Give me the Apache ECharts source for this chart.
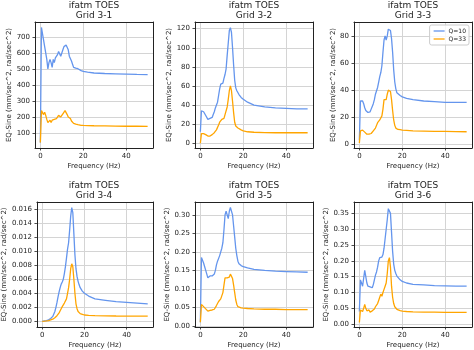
<!DOCTYPE html>
<html><head><meta charset="utf-8">
<script src="https://cdn.jsdelivr.net/npm/echarts@6/dist/echarts.min.js"></script>
<style>html,body{margin:0;padding:0;background:#fff}#c{width:474px;height:350px}</style>
</head><body><div id="c"></div>
<script>
// ---- data ----
const freq = [0, 0.5, 1, 1.5, 2, 2.5, 3, 3.5, 4, 4.5, 5, 5.5, 6, 6.5, 7, 7.5, 8, 8.5, 9, 9.5, 10, 10.5, 11, 11.5, 12, 12.5, 13, 13.5, 14, 14.5, 15, 15.5, 16, 16.5, 17, 17.5, 18, 19, 20, 22, 25, 30, 35, 40, 45, 50];
const seriesNames = ['Q=10', 'Q=33'];
const gridTitles = ['Grid 3-1', 'Grid 3-2', 'Grid 3-3', 'Grid 3-4', 'Grid 3-5', 'Grid 3-6'];
const xTicks = [0, 20, 40];

const g1Blue = [40, 760, 720, 680, 640, 630, 560, 500, 540, 560, 540, 510, 560, 540, 570, 580, 590, 610, 600, 580, 600, 620, 640, 650, 650, 640, 620, 580, 570, 550, 530, 510, 500, 505, 505, 502, 500, 490, 485, 480, 475, 472, 470, 468, 466, 465];
const g1Orange = [40, 240, 230, 215, 230, 210, 185, 165, 175, 180, 165, 180, 170, 185, 195, 190, 200, 210, 205, 200, 210, 220, 225, 240, 235, 215, 200, 195, 190, 175, 165, 160, 155, 155, 155, 152, 150, 148, 147, 146, 145, 144, 143, 142, 142, 141];
const g1Ticks = [100, 200, 300, 400, 500, 600, 700];

const g2Blue = [12, 34, 34, 33, 31, 29, 27, 25, 25, 26, 25, 27, 30, 33, 37, 40, 43, 50, 57, 62, 62, 63, 68, 72, 78, 92, 105, 118, 121, 116, 100, 82, 66, 58, 55, 53, 51, 48, 46, 43, 40, 38, 37, 36.5, 36, 36];
const g2Orange = [0, 10, 11, 10, 9.5, 9, 8, 7.5, 7.5, 7.5, 8, 9, 10, 11, 13, 14, 16, 19, 22, 24, 25, 24, 26, 30, 32, 38, 46, 55, 60, 55, 44, 32, 22, 18, 16.5, 16, 15, 14, 13, 12, 11.5, 11.2, 11, 11, 11, 11];
const g2Ticks = [0, 20, 40, 60, 80, 100, 120];

const g3Blue = [3, 32, 33, 32, 30, 27, 25, 24, 23.5, 24.5, 24, 26, 28, 30, 33, 37, 37, 42, 46, 50, 53, 58, 68, 77, 80, 77, 80, 85, 86, 84, 78, 68, 55, 46, 41, 38, 37, 36, 35, 34, 33, 32, 31.5, 31, 31, 31];
const g3Orange = [1, 10, 11, 10.5, 9.5, 9, 8, 7.5, 7, 7.5, 7.5, 8, 9, 10, 11, 12, 14, 16, 17, 18, 19, 21, 26, 33, 34, 33, 37, 40, 41, 39, 33, 25, 18, 14, 12, 11.5, 11, 10.8, 10.5, 10.3, 10, 9.8, 9.6, 9.5, 9.4, 9.3];
const g3Ticks = [0, 20, 40, 60, 80];

const g4Blue = [0, 0.00002, 0.00005, 0.00007, 0.0001, 0.00015, 0.0002, 0.0003, 0.0004, 0.0005, 0.0007, 0.0009, 0.0014, 0.002, 0.0027, 0.0035, 0.0042, 0.0048, 0.0053, 0.0056, 0.006, 0.0068, 0.0078, 0.009, 0.0103, 0.0112, 0.013, 0.015, 0.0162, 0.0155, 0.0125, 0.0095, 0.0075, 0.0064, 0.0057, 0.0052, 0.0048, 0.0043, 0.004, 0.0036, 0.0032, 0.003, 0.0028, 0.0027, 0.0026, 0.0025];
const g4Orange = [0, 0.00001, 0.00002, 0.00003, 0.00005, 0.00007, 0.0001, 0.00015, 0.0002, 0.00025, 0.0003, 0.0004, 0.0005, 0.0006, 0.0008, 0.001, 0.0012, 0.0015, 0.0018, 0.0021, 0.0023, 0.0026, 0.0028, 0.0032, 0.004, 0.0048, 0.006, 0.0075, 0.0082, 0.0078, 0.006, 0.004, 0.0025, 0.0018, 0.0014, 0.0012, 0.0011, 0.001, 0.0009, 0.00085, 0.0008, 0.00078, 0.00076, 0.00075, 0.00074, 0.00073];
const g4Ticks = [0, 0.002, 0.004, 0.006, 0.008, 0.010, 0.012, 0.014, 0.016];

const g5Blue = [0.01, 0.185, 0.18, 0.17, 0.16, 0.15, 0.14, 0.13, 0.127, 0.135, 0.14, 0.135, 0.132, 0.14, 0.15, 0.165, 0.175, 0.18, 0.19, 0.2, 0.21, 0.225, 0.26, 0.3, 0.31, 0.305, 0.29, 0.31, 0.32, 0.318, 0.3, 0.27, 0.24, 0.21, 0.19, 0.175, 0.168, 0.163, 0.16, 0.157, 0.153, 0.15, 0.148, 0.147, 0.146, 0.145];
const g5Orange = [0.01, 0.058, 0.056, 0.052, 0.049, 0.046, 0.043, 0.04, 0.038, 0.042, 0.045, 0.043, 0.042, 0.045, 0.05, 0.055, 0.06, 0.066, 0.07, 0.073, 0.076, 0.09, 0.11, 0.13, 0.133, 0.13, 0.125, 0.132, 0.14, 0.138, 0.128, 0.11, 0.09, 0.07, 0.058, 0.052, 0.05, 0.049, 0.048, 0.047, 0.046, 0.045, 0.045, 0.044, 0.044, 0.044];
const g5Ticks = [0, 0.05, 0.10, 0.15, 0.20, 0.25, 0.30];

const g6Blue = [0.04, 0.14, 0.13, 0.12, 0.145, 0.17, 0.15, 0.13, 0.12, 0.12, 0.118, 0.12, 0.115, 0.125, 0.14, 0.155, 0.165, 0.18, 0.2, 0.21, 0.21, 0.212, 0.22, 0.24, 0.27, 0.3, 0.33, 0.365, 0.37, 0.35, 0.29, 0.23, 0.19, 0.17, 0.16, 0.152, 0.146, 0.14, 0.135, 0.13, 0.126, 0.124, 0.122, 0.121, 0.12, 0.12];
const g6Orange = [0.005, 0.045, 0.04, 0.04, 0.05, 0.062, 0.05, 0.042, 0.04, 0.045, 0.038, 0.04, 0.042, 0.04, 0.048, 0.055, 0.058, 0.065, 0.075, 0.085, 0.095, 0.088, 0.1, 0.11, 0.12, 0.13, 0.16, 0.2, 0.21, 0.18, 0.12, 0.085, 0.065, 0.055, 0.05, 0.047, 0.045, 0.043, 0.041, 0.04, 0.039, 0.038, 0.038, 0.037, 0.037, 0.037];
const g6Ticks = [0, 0.05, 0.10, 0.15, 0.20, 0.25, 0.30, 0.35];

// ---- layout / style ----
const FONT = '"DejaVu Sans", sans-serif';
const TXT = '#222';
const BLUE = '#6495ED', ORANGE = '#FFA500';
const W = 118, H = 126;
const panels = [
  {blue: g1Blue, orange: g1Orange, ticks: g1Ticks, min: 6, max: 794, dec: 0, left: 35, top: 22, gap: 21},
  {blue: g2Blue, orange: g2Orange, ticks: g2Ticks, min: -5, max: 127, dec: 0, left: 195, top: 22, gap: 21},
  {blue: g3Blue, orange: g3Orange, ticks: g3Ticks, min: -2.7, max: 90.3, dec: 0, left: 354, top: 22, gap: 17},
  {blue: g4Blue, orange: g4Orange, ticks: g4Ticks, min: -0.00081, max: 0.01701, dec: 3, left: 35, top: 202, gap: 28},
  {blue: g5Blue, orange: g5Orange, ticks: g5Ticks, min: -0.003, max: 0.335, dec: 2, left: 195, top: 202, gap: 23.5},
  {blue: g6Blue, orange: g6Orange, ticks: g6Ticks, min: -0.009, max: 0.386, dec: 2, left: 354, top: 202, gap: 23.5}
];

function isOnTick(v, ticks) {
  return ticks.some(t => Math.abs(v - t) < 1e-9 * Math.max(1, Math.abs(t)) + 1e-9);
}

const option = {
  animation: false,
  backgroundColor: '#fff',
  grid: [], xAxis: [], yAxis: [], series: [], graphic: [],
  legend: {
    data: seriesNames,
    orient: 'vertical',
    right: 5, top: 25,
    icon: 'rect',
    itemWidth: 11, itemHeight: 1.3, itemGap: 2,
    padding: [3, 3, 3, 4],
    textStyle: {fontSize: 6, fontFamily: FONT, color: TXT, padding: [0, 0, 0, -1]},
    borderColor: '#cccccc', borderWidth: 1, borderRadius: 2,
    backgroundColor: 'rgba(255,255,255,0.8)',
    z: 10
  }
};

const noLine = {show: false, onZero: false};
panels.forEach((p, i) => {
  option.grid.push({left: p.left, top: p.top, width: W, height: H, containLabel: false});
  const yiv = p.ticks[1] - p.ticks[0];
  const xiv = xTicks[1] - xTicks[0];
  const border = {color: TXT, width: 1};
  option.xAxis.push({
    type: 'value', gridIndex: i, min: -2.5, max: 52.5, minInterval: xiv, maxInterval: xiv, position: 'bottom',
    axisLine: noLine,
    axisTick: {show: true, length: 2.5, customValues: xTicks, lineStyle: {color: TXT, width: 0.8}},
    axisLabel: {customValues: xTicks, margin: 5, fontSize: 7, fontFamily: FONT, color: TXT,
      formatter: v => isOnTick(v, xTicks) ? String(Math.round(v)) : ''},
    splitLine: {show: true, lineStyle: {color: '#d4d4d4', width: 1}},
    name: 'Frequency (Hz)', nameLocation: 'middle', nameGap: 15,
    nameTextStyle: {fontSize: 7, fontFamily: FONT, color: TXT}
  });
  ['bottom', 'top'].forEach(pos => option.xAxis.push({
    type: 'value', gridIndex: i, min: -2.5, max: 52.5, position: pos, z: 5,
    axisLine: {show: true, onZero: false, lineStyle: border},
    axisTick: {show: false}, axisLabel: {show: false}, splitLine: {show: false}
  }));
  option.yAxis.push({
    type: 'value', gridIndex: i, min: p.min, max: p.max, minInterval: yiv, maxInterval: yiv, position: 'left',
    axisLine: noLine,
    axisTick: {show: true, length: 2.5, customValues: p.ticks, lineStyle: {color: TXT, width: 0.8}},
    axisLabel: {customValues: p.ticks, margin: 5, fontSize: 7, fontFamily: FONT, color: TXT,
      formatter: v => isOnTick(v, p.ticks) ? v.toFixed(p.dec) : ''},
    splitLine: {show: true, lineStyle: {color: '#d4d4d4', width: 1}},
    name: 'EQ-Sine (mm/sec^2, rad/sec^2)', nameLocation: 'middle', nameGap: p.gap, nameRotate: 90,
    nameTextStyle: {fontSize: 7, fontFamily: FONT, color: TXT}
  });
  ['left', 'right'].forEach(pos => option.yAxis.push({
    type: 'value', gridIndex: i, min: p.min, max: p.max, position: pos, z: 5,
    axisLine: {show: true, onZero: false, lineStyle: border},
    axisTick: {show: false}, axisLabel: {show: false}, splitLine: {show: false}
  }));
  [[seriesNames[0], p.blue, BLUE], [seriesNames[1], p.orange, ORANGE]].forEach(([name, vals, col]) => {
    option.series.push({
      type: 'line', name, xAxisIndex: 3 * i, yAxisIndex: 3 * i,
      data: freq.map((f, j) => [f, vals[j]]),
      symbol: 'none', color: col, lineStyle: {color: col, width: 1.3}, z: 3
    });
  });
  const cx = p.left + W / 2;
  const tf = '9px ' + FONT;
  option.graphic.push({type: 'text', x: cx, y: p.top - 16.5, style: {text: 'ifatm TOES', align: 'center', verticalAlign: 'middle', textAlign: 'center', textVerticalAlign: 'middle', font: tf, fill: TXT}});
  option.graphic.push({type: 'text', x: cx, y: p.top - 6, style: {text: gridTitles[i], align: 'center', verticalAlign: 'middle', textAlign: 'center', textVerticalAlign: 'middle', font: tf, fill: TXT}});
});

const chart = echarts.init(document.getElementById('c'), null, {renderer: 'canvas'});
chart.setOption(option);
</script></body></html>
